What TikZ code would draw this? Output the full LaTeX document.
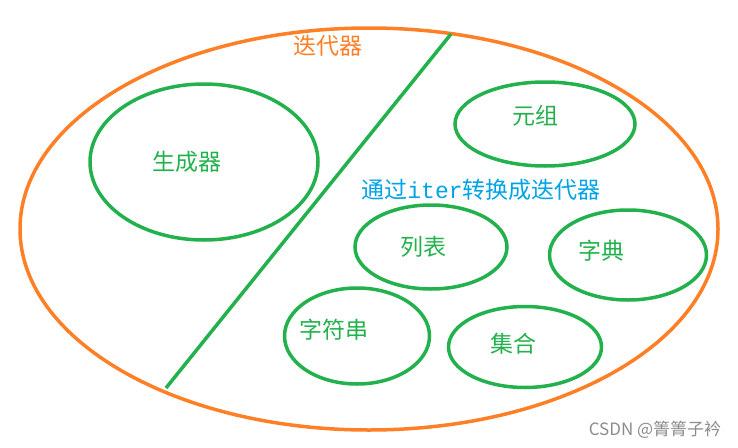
\documentclass[tikz,border=0pt]{standalone}
\usepackage{fontspec}
\setmainfont{Noto Sans CJK SC}
\setmonofont{Liberation Mono}
\usetikzlibrary{shapes.geometric}
\definecolor{paintorange}{HTML}{FF7F27}
\definecolor{paintgreen}{HTML}{22B14C}
\definecolor{paintblue}{HTML}{00A2E8}

\begin{document}
\begin{tikzpicture}[x=1pt, y=-1pt, line width=3.5pt,
    outer/.style = {draw=paintorange, ellipse, inner sep=0pt},
    blob/.style  = {draw=paintgreen, ellipse, inner sep=0pt},
    word/.style  = {text=paintgreen, font=\fontsize{23}{23}\selectfont, inner sep=0pt}]
    \useasboundingbox (0,0) rectangle (738,447);
    % big ellipse and dividing line
    \node[outer, minimum width=698pt, minimum height=402pt] (iter) at (369,229) {};
    \coordinate (top) at (451,34);
    \coordinate (bot) at (166,388);
    \draw[paintgreen] (top) -- (bot);
    \node[text=paintorange, font=\fontsize{23}{23}\selectfont, inner sep=0pt] (title) at (328,46) {迭代器};
    % left part
    \node[blob, minimum width=228pt, minimum height=156pt] (gen) at (204,162) {};
    \node[word] (genlabel) at (187,162) {生成器};
    % right part
    \node[text=paintblue, font=\fontsize{23}{23}\selectfont, inner sep=0pt] (note) at (481,190) {通过{\ttfamily iter}转换成迭代器};
    \node[blob, minimum width=180pt, minimum height=84pt] (tuple) at (545,124) {};
    \node[word] (tuplelabel) at (535,116) {元组};
    \node[blob, minimum width=152pt, minimum height=84pt] (list) at (431,247) {};
    \node[word] (listlabel) at (423,247) {列表};
    \node[blob, minimum width=157pt, minimum height=90pt] (dict) at (628,255) {};
    \node[word] (dictlabel) at (601,251) {字典};
    \node[blob, minimum width=145pt, minimum height=96pt] (str) at (357,336) {};
    \node[word] (strlabel) at (334,330) {字符串};
    \node[blob, minimum width=153pt, minimum height=81pt] (set) at (525,347) {};
    \node[word] (setlabel) at (513,344) {集合};
    \node[text=black!45, font=\fontsize{17}{17}\selectfont, inner sep=0pt] (mark) at (655,430) {CSDN @箐箐子衿};
\end{tikzpicture}
\end{document}
